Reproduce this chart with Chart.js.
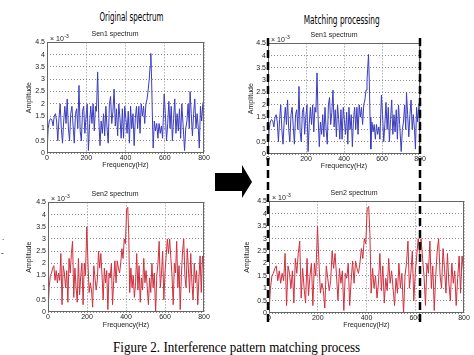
<!DOCTYPE html>
<html><head><meta charset="utf-8">
<script src="https://cdn.jsdelivr.net/npm/chart.js@4/dist/chart.umd.min.js"></script>
<style>
html,body{margin:0;padding:0;background:#fff;}
body{width:474px;height:355px;position:relative;overflow:hidden;}
canvas{position:absolute;}
.t{position:absolute;white-space:nowrap;color:#000;transform-origin:center center;line-height:1;}
.h{font-family:"Liberation Sans Narrow","DejaVu Sans Condensed","Liberation Sans",sans-serif;font-size:12px;}
.cap{font-family:"Liberation Serif","DejaVu Serif",serif;font-size:14px;}
svg{position:absolute;left:0;top:0;}
</style></head>
<body>
<div class="t h" id="h1" data-cx="131" data-cy="17" data-w="64">Original spectrum</div>
<div class="t h" id="h2" data-cx="342" data-cy="20" data-w="76">Matching processing</div>
<div class="t cap" id="cap" data-cx="237" data-cy="348" data-w="247">Figure 2. Interference pattern matching process</div>
<div class="t" style="left:2px;top:233px;font:8px 'Liberation Sans',sans-serif;">.</div>
<div class="t" style="left:1px;top:248px;font:8px 'Liberation Sans',sans-serif;">-</div>

<canvas id="c1" width="186" height="140" style="left:26px;top:29px"></canvas>
<canvas id="c2" width="180" height="140" style="left:248px;top:30px"></canvas>
<canvas id="c3" width="186" height="140" style="left:26px;top:189px"></canvas>
<canvas id="c4" width="228" height="141" style="left:244px;top:188px"></canvas>

<svg width="474" height="355">
  <polygon points="215,173 242,173 242,165 252,182 242,198 242,191 215,191" fill="#000"/>
  <line x1="268" y1="38" x2="268" y2="322" stroke="#000" stroke-width="2.5" stroke-dasharray="8 4"/>
  <line x1="420" y1="38" x2="420" y2="322" stroke="#000" stroke-width="2.5" stroke-dasharray="8 4"/>
</svg>

<script>
// ---- data (amplitude in units of 10^-3) ----
const xTicks = [0, 200, 400, 600, 800];
const yTicks = [0, 0.5, 1, 1.5, 2, 2.5, 3, 3.5, 4, 4.5];

const sen1Freq = [0,6,12,18,25,31,37,43,49,55,61,67,73,79,85,91,97,103,109,115,121,127,133,139,145,151,157,163,169,175,181,187,193,199,205,211,217,223,229,235,241,247,252,258,264,270,276,282,288,294,300,306,312,318,324,330,336,342,348,354,360,366,372,378,384,390,396,402,408,414,420,426,432,438,444,450,456,462,468,474,480,486,492,498,504,510,516,521,525,529,533,537,541,547,553,559,565,571,577,583,589,597,603,609,615,621,627,633,639,645,651,657,663,669,675,681,687,693,701,707,713,719,725,729,735,741,747,753,759,765,771,776,782,788,794,800];
const sen1Amp = [0,1.0,1.3,1.4,1.35,1.1,1.5,1.6,1.3,0.5,1.4,2.0,1.0,0.4,1.3,1.9,1.2,2.2,1.0,0.5,1.6,1.9,1.1,0.4,1.6,1.8,1.0,2.75,0.9,0.5,1.7,1.9,0.8,1.5,2.0,0.1,1.2,1.9,1.2,2.0,0.9,1.9,1.7,3.3,1.4,0.3,1.3,0.8,1.6,0.7,1.9,1.0,0.4,2.0,2.3,1.2,1.7,2.6,1.1,1.8,0.7,2.0,1.4,0.6,1.8,0.6,1.9,1.4,0.8,1.7,0.4,1.9,1.0,1.6,0.3,1.4,1.9,1.0,1.9,0.8,2.0,1.5,1.9,1.2,2.0,2.2,2.6,3.0,3.5,4.05,3.0,1.5,0.2,1.3,0.9,1.2,0.6,1.2,0.8,1.1,0.6,2.4,1.6,0.5,1.2,2.1,1.0,1.9,0.5,1.4,2.2,0.8,1.6,0.9,1.8,0.6,2.0,1.2,0.1,1.0,1.3,2.0,1.0,2.5,1.6,0.7,1.6,2.2,1.0,1.6,1.0,0.2,1.9,1.3,2.0,2.2];

const sen2Freq = [0,6,12,18,24,30,36,42,48,54,60,66,72,78,84,90,96,102,108,114,120,126,132,138,144,150,156,162,168,174,180,186,192,199,205,211,217,223,229,235,241,247,253,259,265,271,277,283,289,295,301,307,313,319,325,331,337,343,349,355,361,367,373,379,385,391,397,403,409,414,419,425,431,437,443,449,455,461,467,473,479,485,491,497,503,509,515,521,527,533,539,545,552,558,564,570,576,582,588,594,600,606,612,618,624,630,636,642,648,654,660,666,672,678,684,690,696,702,708,714,720,726,732,738,744,750,756,762,768,774,780,786,792,800];
const sen2Amp = [0,1.0,1.5,1.6,1.8,1.9,1.3,1.7,1.2,1.6,1.3,2.4,0.3,1.9,1.6,1.0,1.7,0.4,2.2,1.6,2.4,2.9,0.6,1.8,1.0,0.4,2.2,0.7,1.5,2.0,0.3,2.0,1.5,3.5,2.0,0.8,1.2,0.9,0.2,1.9,1.4,0.9,1.3,2.5,1.8,2.4,1.5,0.5,1.8,1.2,1.7,0.1,1.6,1.4,2.0,0.3,1.3,2.1,1.2,2.1,1.8,1.6,2.0,2.6,2.2,3.0,2.8,4.2,4.3,3.2,0.8,1.8,1.0,1.5,0.6,1.2,2.4,0.9,1.9,0.4,1.4,0.9,2.2,1.2,1.7,1.0,0.3,1.4,0.8,2.0,1.0,1.6,0.0,1.5,2.0,2.9,1.0,1.6,2.5,0.5,1.6,2.3,3.0,2.4,3.0,2.2,1.5,0.3,2.0,1.6,2.9,1.0,1.9,0.1,1.5,2.5,3.0,1.5,1.0,2.6,1.8,0.8,2.4,1.2,0.5,2.0,1.2,1.7,0.3,1.4,2.3,0.8,2.3,1.5];

const F = '"Liberation Sans", Arial, sans-serif';
Chart.defaults.font.family = F;
Chart.defaults.color = '#222';

const sciPlugin = {
  id: 'sci',
  afterDraw(chart) {
    const {ctx, chartArea: a} = chart;
    ctx.save();
    ctx.strokeStyle = '#666';
    ctx.lineWidth = 1;
    ctx.strokeRect(Math.round(a.left) + 0.5, Math.round(a.top) + 0.5,
                   Math.round(a.right - a.left) - 1, Math.round(a.bottom - a.top) - 1);
    ctx.fillStyle = '#222';
    ctx.textBaseline = 'alphabetic';
    ctx.textAlign = 'left';
    ctx.font = '7px ' + F;
    const base = '\u00d7 10';
    ctx.fillText(base, a.left + 3, a.top - 1);
    const w = ctx.measureText(base).width;
    ctx.font = '5px ' + F;
    ctx.fillText('-3', a.left + 3 + w + 0.5, a.top - 4);
    ctx.restore();
  }
};

function makeChart(id, freq, amp, color, title, yw, xh) {
  return new Chart(document.getElementById(id), {
    type: 'line',
    data: { datasets: [{
      data: freq.map((f, i) => ({ x: f, y: amp[i] })),
      borderColor: color, borderWidth: 1, pointRadius: 0, tension: 0, fill: false
    }]},
    options: {
      responsive: false, animation: false, events: [],
      layout: { padding: { top: 0, right: 8, left: 0, bottom: 0 } },
      plugins: {
        legend: { display: false }, tooltip: { enabled: false },
        title: { display: true, text: title, color: '#222',
                 font: { size: 7, lineHeight: 1.2, weight: 'normal' }, padding: { top: 1, bottom: 4 } }
      },
      scales: {
        x: {
          type: 'linear', min: 0, max: 800,
          afterBuildTicks: s => { s.ticks = xTicks.map(v => ({ value: v })); },
          afterFit: s => { s.height = xh; },
          ticks: { font: { size: 7, lineHeight: 1 }, padding: 2, maxRotation: 0, autoSkip: false,
                   callback: v => String(v) },
          grid: { color: '#8a8a8a', drawTicks: false, lineWidth: 1 },
          border: { display: false, dash: [1, 2] },
          title: { display: true, text: 'Frequency(Hz)', font: { size: 7, lineHeight: 1 }, padding: 0, color: '#222' }
        },
        y: {
          min: 0, max: 4.5,
          afterBuildTicks: s => { s.ticks = yTicks.map(v => ({ value: v })); },
          afterFit: s => { s.width = yw; },
          ticks: { font: { size: 7, lineHeight: 1 }, padding: 2, autoSkip: false,
                   callback: v => String(v) },
          grid: { color: '#8a8a8a', drawTicks: false, lineWidth: 1 },
          border: { display: false, dash: [1, 2] },
          title: { display: true, text: 'Amplitude', font: { size: 7, lineHeight: 1 }, padding: 0, color: '#222' }
        }
      }
    },
    plugins: [sciPlugin]
  });
}

const BLUE = '#3b3dbe', RED = '#d0303e';
makeChart('c1', sen1Freq, sen1Amp, BLUE, 'Sen1 spectrum', 21, 16);
makeChart('c2', sen1Freq, sen1Amp, BLUE, 'Sen1 spectrum', 20, 16);
makeChart('c3', sen2Freq, sen2Amp, RED, 'Sen2 spectrum', 22, 17);
makeChart('c4', sen2Freq, sen2Amp, RED, 'Sen2 spectrum', 25, 16);

// fit header/caption texts to their measured widths in the reference
document.querySelectorAll('.t[data-w]').forEach(el => {
  const r = el.getBoundingClientRect();
  const sx = (+el.dataset.w) / r.width;
  el.style.left = (+el.dataset.cx - r.width / 2) + 'px';
  el.style.top = (+el.dataset.cy - r.height / 2) + 'px';
  el.style.transform = 'scaleX(' + sx.toFixed(3) + ')';
});
</script>
</body></html>
